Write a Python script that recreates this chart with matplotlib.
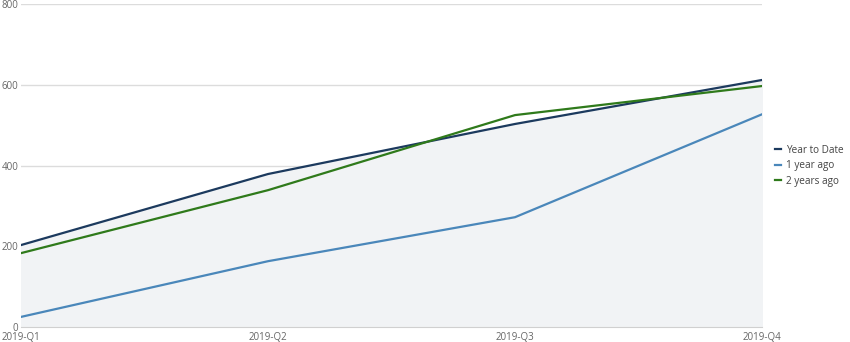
import matplotlib
matplotlib.use("Agg")
from matplotlib import pyplot as plt

quarters = ["2019-Q1", "2019-Q2", "2019-Q3", "2019-Q4"]
year_to_date = [203, 379, 503, 612]
one_year_ago = [25, 163, 272, 527]
two_years_ago = [183, 339, 525, 597]

plt.rcParams['font.family'] = ['Open Sans', 'DejaVu Sans']

fig = plt.figure(figsize=(8.5, 3.42), dpi=100)
ax = fig.add_axes([0.0247, 0.0439, 0.8718, 0.9441])

x = range(len(quarters))
ax.fill_between(x, year_to_date, 0, color="#f1f3f5", zorder=1)
ax.plot(x, year_to_date, color="#1c3a5e", lw=1.6, label="Year to Date", zorder=3)
ax.plot(x, one_year_ago, color="#4a87ba", lw=1.6, label="1 year ago", zorder=3)
ax.plot(x, two_years_ago, color="#2f7a1b", lw=1.6, label="2 years ago", zorder=3)

ax.set_xlim(0, 3)
ax.set_ylim(0, 800)
ax.set_yticks([0, 200, 400, 600, 800])
ax.set_xticks(list(x))
ax.set_xticklabels(quarters)
ax.grid(axis="y", color="#dcdcdc", lw=1, zorder=0)
ax.set_axisbelow(True)
for s in ["top", "right", "left"]:
    ax.spines[s].set_visible(False)
ax.spines["bottom"].set_color("#d0d0d0")
ax.tick_params(length=0, colors="#666666", labelsize=7)
ax.tick_params(axis="y", pad=2)
ax.tick_params(axis="x", pad=3.5)
for lbl in ax.get_yticklabels():
    lbl.set_va("center_baseline")

leg = ax.legend(loc="center left", bbox_to_anchor=(1.005, 0.50), frameon=False,
                fontsize=7.2, handlelength=0.6, handletextpad=0.5, labelspacing=0.45)
for t in leg.get_texts():
    t.set_color("#444444")

fig.savefig("out.png", dpi=100)
